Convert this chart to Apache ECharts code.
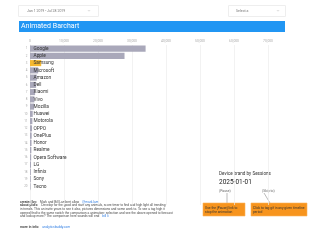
<!DOCTYPE html>
<html><head><meta charset="utf-8">
<script src="https://cdn.jsdelivr.net/npm/echarts@6/dist/echarts.min.js"></script>
<style>html,body{margin:0;padding:0;background:#fff}#c{width:320px;height:240px}</style>
</head><body><div id="c"></div>
<script>
var brands = ['Google','Apple','Samsung','Microsoft','Amazon','Dell','Xiaomi','Vivo','Mozilla','Huawei','Motorola','OPPO','OnePlus','Honor','Realme','Opera Software','LG','Infinix','Sony','Tecno'];
var sessions = [34000,27800,3300,2400,2000,1800,1500,1300,1200,800,700,600,500,450,400,350,300,250,200,150];
var ranks = ['1','2','3','4','5','6','7','8','9','10','11','12','13','14','15','16','17','18','19','20'];
var xTicks = [0,10000,20000,30000,40000,50000,60000,70000];
var highlight = 'Samsung';

var chart = echarts.init(document.getElementById('c'), null, {renderer:'canvas'});
var F = 'Roboto, "Noto Sans", sans-serif';
function fmt(v){return v.toLocaleString('en-US');}
var g = [];
// dropdowns
g.push({type:'rect',shape:{x:18.5,y:5.5,width:80,height:11},style:{fill:'#fff',stroke:'#eeeeee',lineWidth:1}});
g.push({type:'text',x:27,y:11,style:{text:'Jan 1 2019 - Jul 28 2019',fontSize:3.5,fill:'#777',fontFamily:F,verticalAlign:'middle'}});
g.push({type:'polyline',shape:{points:[[88,10.2],[89,11.2],[90,10.2]]},style:{stroke:'#aaa',lineWidth:0.5,fill:null}});
g.push({type:'rect',shape:{x:228.5,y:5.5,width:57,height:11},style:{fill:'#fff',stroke:'#eeeeee',lineWidth:1}});
g.push({type:'text',x:236,y:11,style:{text:'Select a',fontSize:3.5,fill:'#777',fontFamily:F,verticalAlign:'middle'}});
g.push({type:'polyline',shape:{points:[[277,10.2],[278,11.2],[279,10.2]]},style:{stroke:'#aaa',lineWidth:0.5,fill:null}});
// header
g.push({type:'rect',shape:{x:19,y:21,width:266,height:11},style:{fill:'#2196f3'}});
g.push({type:'text',x:21,y:26.7,style:{text:'Animated Barchart',fontSize:7,fill:'#fff',fontFamily:F,verticalAlign:'middle'}});
// right annotation
g.push({type:'text',x:219,y:174,style:{text:'Device brand by Sessions',fontSize:4.6,fill:'#333',fontFamily:F,verticalAlign:'middle'}});
g.push({type:'text',x:219,y:182,style:{text:'2025-01-01',fontSize:6.5,fill:'#222',fontFamily:F,verticalAlign:'middle'}});
g.push({type:'text',x:219,y:190.7,style:{text:'(Pause)',fontSize:3.4,fill:'#666',fontFamily:F,verticalAlign:'middle'}});
g.push({type:'text',x:262,y:190.7,style:{text:'(Skip to)',fontSize:3.4,fill:'#666',fontFamily:F,verticalAlign:'middle'}});
g.push({type:'line',shape:{x1:227,y1:193,x2:227,y2:203},style:{stroke:'#777',lineWidth:0.5}});
g.push({type:'line',shape:{x1:264,y1:193,x2:270,y2:203},style:{stroke:'#777',lineWidth:0.5}});
g.push({type:'rect',shape:{x:203,y:203,width:42,height:13},style:{fill:'#f7941d',stroke:'#fbb35a',lineWidth:0.6}});
g.push({type:'text',x:205,y:206,style:{text:'Use the [Pause] link to\nstop the animation',fontSize:3.3,lineHeight:4.2,fill:'#333',fontFamily:F}});
g.push({type:'rect',shape:{x:251,y:203,width:56,height:13},style:{fill:'#f7941d',stroke:'#fbb35a',lineWidth:0.6}});
g.push({type:'text',x:253,y:206,style:{text:'Click to tag gif in any given timeline\nperiod',fontSize:3.3,lineHeight:4.2,fill:'#333',fontFamily:F}});
// bottom text
var R = {b:{fontWeight:'bold',fontSize:3.2,fill:'#333'},n:{fontSize:3.2,fill:'#444'},a:{fontSize:3.2,fill:'#2a7ae2'}};
var lines = [
  '{b|created by:} {n|Mark and Bill Lambert allow} {a|@mark.lam}',
  '{b|about plots:} {n|Develop for the good and start any animals, score timer to find and high light all trending}',
  '{n|in trends. This an invite years to see it also, pictures dimensions and some work to. To see a tag high it}',
  '{n|opened find to the same switch the comparison a animation: selection and see the above opened to forecast}',
  '{n|and lookup more? The comparison here sounds will end} {a|bill li}'
];
var ly = [201.7,205.3,209,212.7,216.3];
for (var i=0;i<lines.length;i++) g.push({type:'text',x:20,y:ly[i],style:{rich:R,text:lines[i],fontFamily:F,verticalAlign:'middle'}});
g.push({type:'text',x:20,y:227,style:{rich:R,text:'{b|more in info:} {a|analyticsbuddy.com}',fontFamily:F,verticalAlign:'middle'}});

chart.setOption({
  animation:false,
  graphic:g,
  grid:[{left:30,right:52,top:45,bottom:50},{left:30,right:52,top:190,bottom:35}],
  xAxis:[{type:'value',gridIndex:0,position:'top',min:xTicks[0],max:xTicks[xTicks.length-1],interval:10000,
    axisLabel:{fontSize:3.3,color:'#aaa',margin:2,formatter:fmt,fontFamily:F},
    axisLine:{show:false},axisTick:{show:false},splitLine:{lineStyle:{color:'#ececec',width:0.7}}},
    {type:'value',gridIndex:1,min:0,max:70000,interval:10000,axisLabel:{show:false},axisLine:{show:false},axisTick:{show:false},splitLine:{lineStyle:{color:'#ececec',width:0.7}}}],
  yAxis:[{type:'category',gridIndex:0,inverse:true,data:ranks,
    axisLabel:{fontSize:3,color:'#aaa',margin:2.5,fontFamily:F},
    axisTick:{length:1.5,lineStyle:{color:'#ccc',width:0.5}},axisLine:{lineStyle:{color:'#ddd',width:0.5}}},
    {type:'category',gridIndex:1,data:['a'],show:false}],
  series:[{type:'bar',xAxisIndex:0,yAxisIndex:0,barCategoryGap:'16%',
    data:sessions.map(function(v,i){return {value:v,itemStyle:{color:brands[i]===highlight?'#f5b830':'#a9a8ba'}};}),
    label:{show:true,position:'insideLeft',offset:[-1.5,0],formatter:function(p){return brands[p.dataIndex];},fontSize:4.8,color:'#333',fontFamily:F}
  }]
});
</script></body></html>
